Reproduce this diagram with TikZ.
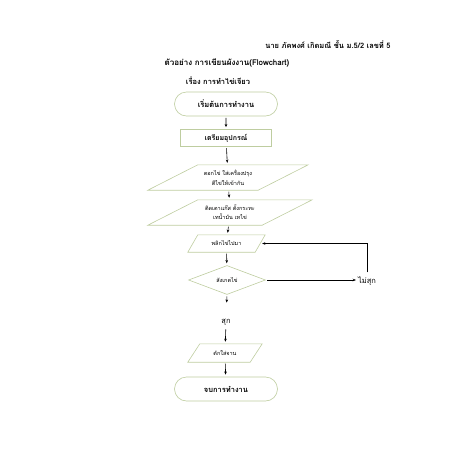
\documentclass[tikz,border=0pt]{standalone}
\usepackage{fontspec}
\newfontfamily\thai[Script=Thai]{Loma}
\usetikzlibrary{shapes.geometric,shapes.misc,arrows.meta}
\definecolor{boxline}{RGB}{190,205,160}
\newcommand{\fs}[1]{\fontsize{#1}{#1}\selectfont}
\newcommand{\parashape}[2]{\draw[shp] ([xshift=#2]#1.north west) -- (#1.north east) -- ([xshift=-#2]#1.south east) -- (#1.south west) -- cycle;}
\begin{document}
\begin{tikzpicture}[x=1pt,y=-1pt,
  every node/.style={font=\thai, inner sep=0pt, align=center},
  shp/.style={draw=boxline, line width=0.6pt},
  hdr/.style={font=\thai\bfseries\fs{7.5}},
  term/.style={shp, fill=white, rounded rectangle, minimum width=103pt, minimum height=24pt, font=\thai\bfseries\fs{7.5}},
  procbox/.style={shp, fill=white, rectangle, minimum width=91pt, minimum height=17pt, font=\thai\bfseries\fs{7}},
  parabox/.style={minimum width=#1, font=\thai\fs{5.5}, text depth=0pt},
  decbox/.style={shp, fill=white, diamond, minimum width=77pt, minimum height=29pt, font=\thai\fs{5.5}},
  lbl/.style={font=\thai\fs{7.5}},
  arr/.style={-{Stealth[length=3.2pt,width=2.6pt]}, line width=0.6pt, shorten <=1.5pt, shorten >=2pt}
]
\useasboundingbox (0,0) rectangle (453,453);
% headers
\node[hdr] (h1) at (328,45) {นาย ภัคพงศ์ เกิดมณี ชั้น ม.5/2 เลขที่ 5};
\node[hdr, font=\thai\bfseries\fs{8}] (h2) at (227,63) {ตัวอย่าง การเขียนผังงาน(Flowchart)};
\node[hdr] (h3) at (218,81) {เรื่อง การทำไข่เจียว};
% flow
\node[term] (start) at (226,104) {เริ่มต้นการทำงาน};
\node[procbox] (prep) at (226,138) {เตรียมอุปกรณ์};
\node[parabox=160pt, minimum height=25pt] (p1) at (228,177.5) {ตอกไข่ ใส่เครื่องปรุง\\[2pt]ตีไข่ให้เข้ากัน};
\parashape{p1}{50pt}
\node[parabox=164pt, minimum height=25pt] (p2) at (230,212.5) {ติดเตาแก๊ส ตั้งกระทะ\\[2pt]เทน้ำมัน เทไข่};
\parashape{p2}{50pt}
\node[parabox=77pt, minimum height=17pt] (p3) at (226.5,243.5) {พลิกไข่ไปมา};
\parashape{p3}{10pt}
\node[decbox] (dec) at (227,280) {สังเกตไข่};
\node[lbl] (nosuk) at (367,281) {ไม่สุก};
\node[lbl] (suk) at (226,322) {สุก};
\node[parabox=74pt, minimum height=18pt] (p4) at (225,353) {ตักใส่จาน};
\parashape{p4}{12pt}
\node[term] (stop) at (226,389) {จบการทำงาน};
\coordinate (p3r) at ([xshift=-3pt]p3.east);
\coordinate (nosukin) at (dec.east -| nosuk.west);
% connectors
\draw[arr] (start) -- (prep);
\draw[arr] (prep) -- (p1);
\draw[arr] (p1) -- (p2);
\draw[arr] (p2) -- (p3);
\draw[arr] (p3) -- (dec);
\draw[arr, shorten >=2pt] (dec.east) -- (nosukin);
\draw[arr, shorten <=4pt, shorten >=0pt] (nosuk.north) |- (p3r);
\draw[arr, shorten >=16pt] (dec.south) -- (suk.north);
\draw[arr, shorten <=4pt] (suk) -- (p4);
\draw[arr] (p4) -- (stop);
\end{tikzpicture}
\end{document}
